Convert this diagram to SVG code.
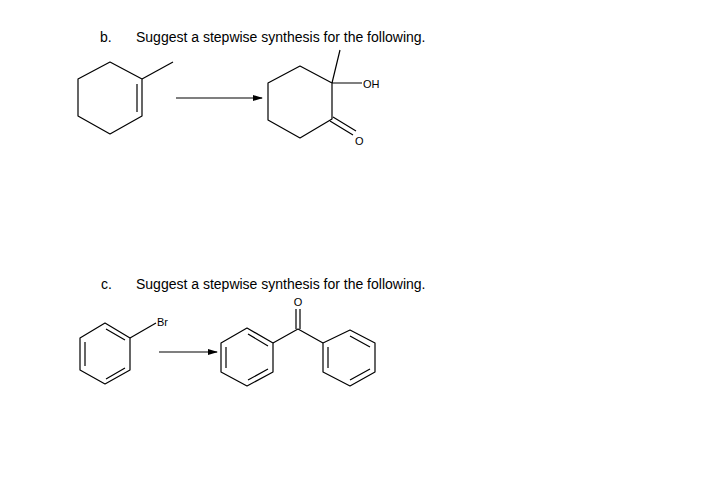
<svg xmlns="http://www.w3.org/2000/svg" width="701" height="482" viewBox="0 0 701 482">
<style>
.t{font-family:"Liberation Sans",Arial,sans-serif;font-size:14px;fill:#000}
.a{font-family:"Liberation Sans",Arial,sans-serif;font-size:11px;fill:#000}
.b{fill:none;stroke:#000;stroke-width:1.2;stroke-linejoin:round}
</style>
<defs><marker id="ah" markerWidth="10" markerHeight="6" refX="9" refY="3" orient="auto" markerUnits="userSpaceOnUse"><path d="M0,0L10,3L0,6z"/></marker></defs>
<rect width="701" height="482" fill="#fff"/>
<text class="t" x="100" y="42">b.</text>
<text class="t" x="136" y="42">Suggest a stepwise synthesis for the following.</text>
<text class="t" x="101" y="289">c.</text>
<text class="t" x="136" y="289">Suggest a stepwise synthesis for the following.</text>
<g id="methylcyclohexene" class="b">
<path d="M110,62L142,79L142,116L110,134L78,116L78,79Z"/>
<path d="M137,84L137,112"/>
<path d="M142,79L173,62"/>
</g>
<g id="hydroxyketone">
<path class="b" d="M332,83L300,66L268,83L268,120L300,138L332,119Z"/>
<path class="b" d="M332,83L340,50M332,83L362,83M333,117L356,131M330,121L353,135"/>
<text class="a" x="363" y="88">OH</text>
<text class="a" x="355" y="145">O</text>
</g>
<g id="bromobenzene">
<path class="b" d="M105,323L130,338L130,370L105,384L80,370L80,338Z"/>
<path class="b" d="M85,342L85,366M106,329L125,340M125,368L106,379"/>
<path class="b" d="M130,338L156,323"/>
<text class="a" x="157" y="326">Br</text>
</g>
<g id="benzophenone">
<path class="b" d="M247,328L273,343L273,372L247,386L221,372L221,343Z"/>
<path class="b" d="M226,347L226,368M248,334L268,346M268,369L248,380"/>
<path class="b" d="M273,343L298,329L323,343"/>
<path class="b" d="M296,329L296,309M300,329L300,309"/>
<text class="a" x="298" y="306" text-anchor="middle">O</text>
<path class="b" d="M323,343L350,330L375,343L375,372L350,386L323,372Z"/>
<path class="b" d="M350,336L370,347M370,369L350,380M328,368L328,347"/>
</g>
<g id="connectors" stroke="#000" stroke-width="1.2">
<path d="M176,98L262,98" marker-end="url(#ah)"/>
<path d="M159,352L217,352" marker-end="url(#ah)"/>
</g>
</svg>
